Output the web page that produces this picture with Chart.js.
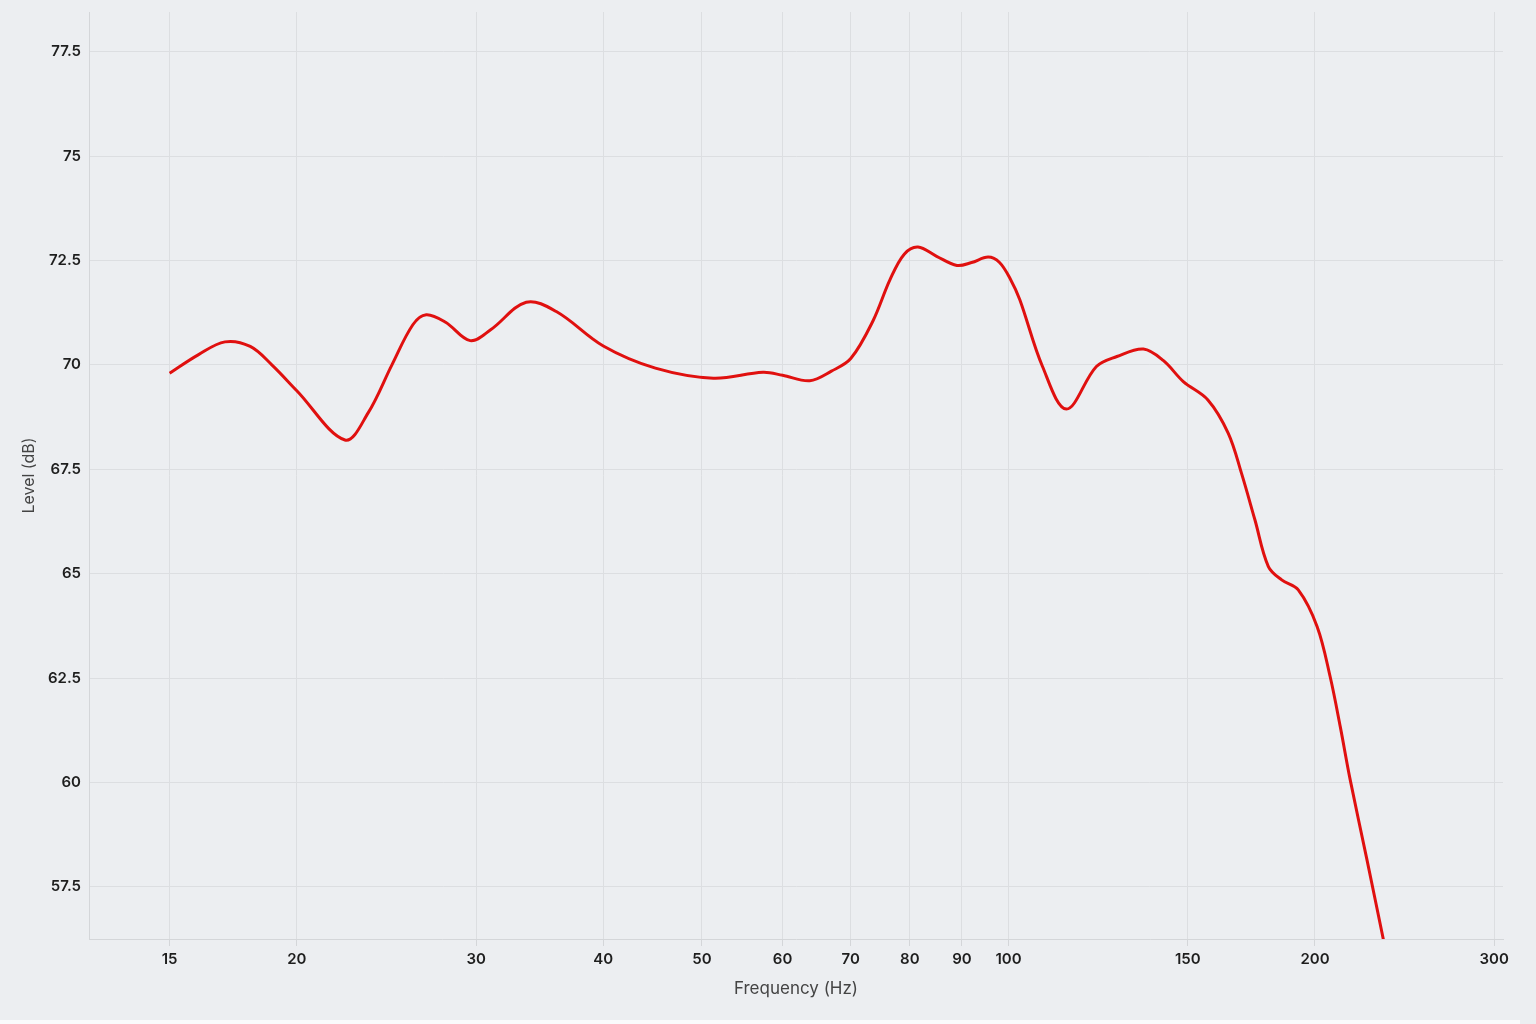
<!DOCTYPE html>
<html>
<head>
<meta charset="utf-8">
<title>Frequency response</title>
<script src="https://cdn.jsdelivr.net/npm/chart.js@4"></script>
<style>
  html, body { margin: 0; padding: 0; background: #eceef1; }
  #wrap { position: relative; width: 1536px; height: 1024px; }
  #strip { position: absolute; left: 0; bottom: 0; width: 1520px; height: 4px; background: #fafbfc; }
</style>
</head>
<body>
<div id="wrap"><canvas id="fr" width="1536" height="1024"></canvas><div id="strip"></div></div>
<script>
// values
const freqs = [15, 16, 17, 18, 18.9, 20, 22.3, 23.5, 24.8, 26, 26.8, 28, 29.6, 31, 33.6, 36, 40, 45, 51.3,
  57.4, 60, 63.8, 67, 70, 73.6, 76.5, 79, 81.5, 85, 89, 92, 95.5, 98, 100.5, 102.6, 108, 114, 122,
  127.8, 135.7, 142, 148.5, 157, 164.4, 169.4, 174.6, 180, 185.5, 192.6, 201, 207, 211.8, 216.6, 225, 233.5];
const levels = [69.8, 70.24, 70.55, 70.44, 70.0, 69.38, 68.2, 68.85, 70.0, 70.96, 71.2, 71.02, 70.58, 70.84, 71.5, 71.27, 70.45, 69.92, 69.68,
  69.82, 69.75, 69.62, 69.85, 70.15, 71.05, 72.04, 72.65, 72.82, 72.6, 72.38, 72.45, 72.58, 72.45, 72.04, 71.56, 69.96, 68.94, 69.96,
  70.2, 70.38, 70.1, 69.6, 69.16, 68.36, 67.4, 66.29, 65.17, 64.85, 64.61, 63.73, 62.53, 61.33, 60.06, 58.14, 56.23];

const xTicks = [15, 20, 30, 40, 50, 60, 70, 80, 90, 100, 150, 200, 300];
const yTicks = [57.5, 60, 62.5, 65, 67.5, 70, 72.5, 75, 77.5];

const points = freqs.map((f, i) => ({ x: f, y: levels[i] }));

// paints the page grey behind the plot
const bgPlugin = {
  id: "bg",
  beforeDraw(chart) {
    const ctx = chart.ctx;
    ctx.save();
    ctx.fillStyle = "#eceef1";
    ctx.fillRect(0, 0, chart.width, chart.height);
    ctx.restore();
  },
};

new Chart(document.getElementById("fr"), {
  type: "line",
  data: {
    datasets: [{
      label: "Level",
      data: points,
      borderColor: "#e0100f",
      borderWidth: 3,
      pointRadius: 0,
      tension: 0.35,
      fill: false,
    }],
  },
  options: {
    responsive: false,
    animation: false,
    layout: { padding: { top: 12, right: 33, left: 0, bottom: 21 } },
    plugins: { legend: { display: false }, tooltip: { enabled: false } },
    scales: {
      x: {
        type: "logarithmic",
        min: 12.5,
        max: 306,
        afterBuildTicks: (s) => { s.ticks = xTicks.map((v) => ({ value: v })); },
        afterFit: (s) => { s.height = 64; },
        grid: { color: "#dcdee1", tickLength: 7, tickColor: "#d4d6d9" },
        border: { color: "#d4d6d9" },
        ticks: {
          autoSkip: false,
          maxRotation: 0,
          padding: 4,
          color: "#1e1e1e",
          font: { family: "Inter", size: 15, weight: "600" },
          callback: (v) => String(v),
        },
        title: {
          display: true,
          text: "Frequency (Hz)",
          color: "#444",
          padding: { top: 8 },
          font: { family: "Inter", size: 17 },
        },
      },
      y: {
        min: 56.25,
        max: 78.45,
        afterBuildTicks: (s) => { s.ticks = yTicks.map((v) => ({ value: v })); },
        afterFit: (s) => { s.width = 89; s.paddingTop = 0; s.paddingBottom = 0; },
        grid: { color: "#dcdee1", tickLength: 0 },
        border: { color: "#d4d6d9" },
        ticks: {
          padding: 8,
          color: "#1e1e1e",
          font: { family: "Inter", size: 15, weight: "600" },
          callback: (v) => String(v),
        },
        title: {
          display: true,
          text: "Level (dB)",
          color: "#444",
          padding: { bottom: 0, top: 20 },
          font: { family: "Inter", size: 16 },
        },
      },
    },
  },
  plugins: [bgPlugin],
});
</script>
</body>
</html>
